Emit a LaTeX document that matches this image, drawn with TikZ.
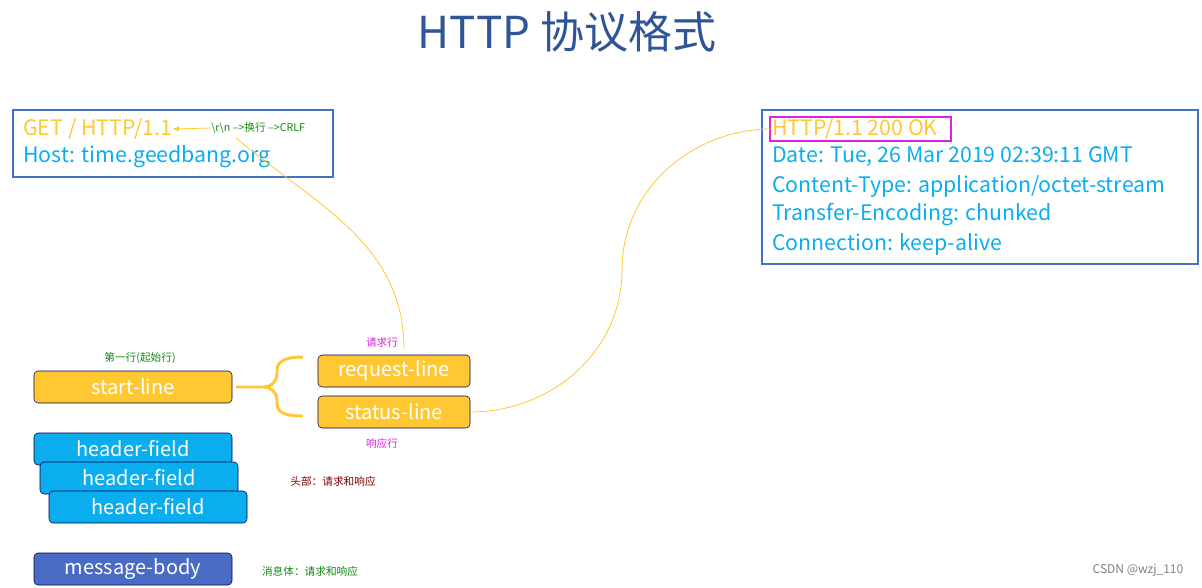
\documentclass[tikz,border=0pt]{standalone}
\usepackage{fontspec}
\setmainfont{Noto Sans CJK SC}
\usetikzlibrary{arrows.meta}
\definecolor{ttl}{HTML}{2F5597}
\definecolor{yel}{HTML}{FFC832}
\definecolor{cy}{HTML}{0AADEE}
\definecolor{bl}{HTML}{4472C4}
\definecolor{mb}{HTML}{4A6BC4}
\definecolor{gr}{HTML}{118811}
\definecolor{mg}{HTML}{DD22DD}
\tikzset{
 pill/.style={draw=black!70!blue,rounded corners=3pt,minimum width=148.5pt,minimum height=24pt,inner sep=0pt,text=white,font=\fontsize{15}{16}\selectfont},
 sub/.style={pill,minimum width=114pt},
 ann/.style={font=\fontsize{8}{9}\selectfont},
 txt/.style={anchor=west,inner sep=0pt,font=\fontsize{16}{18}\selectfont},
 link/.style={draw=yel,line width=0.6pt}
}
\begin{document}
\begin{tikzpicture}[x=0.75pt,y=-0.75pt]
\useasboundingbox (0,0) rectangle (1202,587);
\node[text=ttl,font=\fontsize{33}{36}\selectfont\addfontfeature{FakeBold=0}] (title) at (567,32) {HTTP 协议格式};
\draw[bl,line width=0.8pt] (13,110) rectangle (333,177);
\node[txt,text=yel] (get) at (23,129) {GET / HTTP/1.1};
\node[txt,text=cy] (host) at (23,157) {Host: time.geedbang.org};
\node[ann,text=gr,anchor=west,inner sep=0pt] (crlf) at (211,128) {\textbackslash r\textbackslash n -->换行 -->CRLF};
\draw[link,-{Latex[length=5pt]}] (crlf.west) -- (get.east);
\draw[bl,line width=0.8pt] (762,110) rectangle (1198,264);
\node[txt,text=yel] (st) at (772,129) {HTTP/1.1 200 OK};
\draw[mg,line width=0.8pt] (770,117) rectangle (951,141);
\node[txt,text=cy] at (772,157) {Date: Tue, 26 Mar 2019 02:39:11 GMT};
\node[txt,text=cy] at (772,186) {Content-Type: application/octet-stream};
\node[txt,text=cy] at (772,215) {Transfer-Encoding: chunked};
\node[txt,text=cy] at (772,244) {Connection: keep-alive};
\node[pill,fill=yel] (start) at (133,387) {start-line};
\node[sub,fill=yel] (req) at (394,371) {request-line};
\node[sub,fill=yel] (sta) at (394,412) {status-line};
\node[ann,text=gr] at (140,358) {第一行(起始行)};
\node[ann,text=mg] at (382,342) {请求行};
\node[ann,text=mg] at (382,443) {响应行};
\draw[yel,line width=2.2pt] (236,387) -- (264,387) to[out=0,in=270] (277,374) -- (277,370) to[out=90,in=180] (303,357);
\draw[yel,line width=2.2pt] (264,387) to[out=0,in=90] (277,400) -- (277,404) to[out=270,in=180] (303,416);
\coordinate (rq) at (404,349);
\draw[link] (rq) to[out=90,in=-40] (236,138);
\draw[link] (sta.east) to[out=0,in=270] (622,270) to[out=90,in=180] (st.west);
\node[pill,fill=cy] (h1) at (133,449) {header-field};
\node[pill,fill=cy] (h2) at (139,478) {header-field};
\node[pill,fill=cy] (h3) at (148,507) {header-field};
\node[ann,text=red!50!black] at (333,481) {头部：请求和响应};
\node[pill,fill=mb] (body) at (133,569) {message-body};
\node[ann,text=gr] at (310,571) {消息体：请求和响应};
\node[ann,text=gray,font=\fontsize{9}{10}\selectfont] at (1138,570) {CSDN @wzj\_110};
\end{tikzpicture}
\end{document}
